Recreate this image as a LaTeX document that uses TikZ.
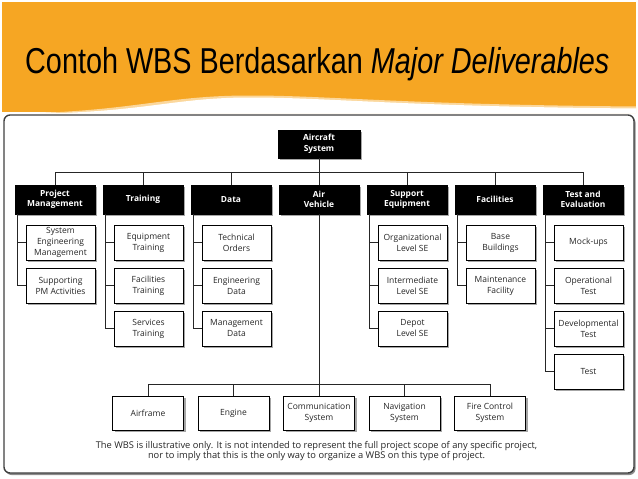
\documentclass[tikz,border=0pt]{standalone}
\usepackage{fontspec}
\setmainfont{Liberation Sans}
\newfontfamily\titlefont[FakeStretch=0.8]{Liberation Sans}
\newfontfamily\boxfont{Open Sans}
\usetikzlibrary{shadows}
\definecolor{hdrorange}{RGB}{246,166,35}
\tikzset{
  hdr/.style={fill=black, draw=black, text=white,
    font=\boxfont\bfseries\fontsize{8.4}{10.5}\selectfont,
    minimum width=80pt, minimum height=29pt, inner sep=1pt, align=center,
    drop shadow={shadow xshift=2pt, shadow yshift=-2pt, fill=black!35, opacity=1}},
  item/.style={fill=white, draw=black, line width=0.8pt, text=black!85,
    font=\boxfont\fontsize{8.5}{11}\selectfont,
    minimum width=69pt, minimum height=35pt, inner sep=1pt, align=center,
    drop shadow={shadow xshift=2pt, shadow yshift=-2pt, fill=black!35, opacity=1}},
  bitem/.style={item, minimum width=71pt, minimum height=34pt},
  link/.style={draw=black!85, line width=0.8pt},
}
\begin{document}
\begin{tikzpicture}[x=1pt,y=-1pt]
\useasboundingbox (0,0) rectangle (638,479);
% header band
\fill[hdrorange] (2,2) rectangle (636,112);
\fill[hdrorange!45] (40,113) .. controls (140,109) and (170,95.5) .. (250,95.5)
   .. controls (330,95.5) and (400,104.5) .. (636,106.5) -- (636,113) -- cycle;
\fill[white] (60,113) .. controls (150,110) and (180,97.5) .. (250,97.5)
   .. controls (330,97.5) and (400,106.5) .. (636,108.5) -- (636,113) -- cycle;
\node[anchor=base west, inner sep=0, font=\titlefont\fontsize{36}{40}\selectfont] (title) at (25,73)
  {Contoh WBS Berdasarkan \textit{Major Deliverables}};
% frame
\fill[black!45, rounded corners=6pt] (5.5,116.5) rectangle (635.5,475);
\draw[line width=1.4pt, black!75, fill=white, rounded corners=6pt] (4,115) rectangle (634,473);

% root
\node[hdr, minimum width=82pt, minimum height=28pt] (root) at (319,144) {Aircraft\\System};
% level 1
\node[hdr] (pm) at (55,199.5) {Project\\Management};
\node[hdr] (tr) at (143,199.5) {Training};
\node[hdr] (da) at (231,199.5) {Data};
\node[hdr] (av) at (319,199.5) {Air\\Vehicle};
\node[hdr] (se) at (407,199.5) {Support\\Equipment};
\node[hdr] (fa) at (495,199.5) {Facilities};
\node[hdr] (te) at (583,199.5) {Test and\\Evaluation};

% children
\node[item] (pm1) at (60.5,242.5) {System\\Engineering\\Management};
\node[item] (pm2) at (60.5,285.5) {Supporting\\PM Activities};
\node[item] (tr1) at (148.5,242.5) {Equipment\\Training};
\node[item] (tr2) at (148.5,285.5) {Facilities\\Training};
\node[item] (tr3) at (148.5,328.5) {Services\\Training};
\node[item] (da1) at (236.5,242.5) {Technical\\Orders};
\node[item] (da2) at (236.5,285.5) {Engineering\\Data};
\node[item] (da3) at (236.5,328.5) {Management\\Data};
\node[item] (se1) at (412.5,242.5) {Organizational\\Level SE};
\node[item] (se2) at (412.5,285.5) {Intermediate\\Level SE};
\node[item] (se3) at (412.5,328.5) {Depot\\Level SE};
\node[item] (fa1) at (500.5,242.5) {Base\\Buildings};
\node[item] (fa2) at (500.5,285.5) {Maintenance\\Facility};
\node[item] (te1) at (588.5,242.5) {Mock-ups};
\node[item] (te2) at (588.5,285.5) {Operational\\Test};
\node[item] (te3) at (588.5,328.5) {Developmental\\Test};
\node[item] (te4) at (588.5,371.5) {Test};

% bottom row
\node[bitem] (af) at (148,413) {Airframe};
\node[bitem] (en) at (233.5,413) {Engine};
\node[bitem] (cs) at (319,413) {Communication\\System};
\node[bitem] (ns) at (404.5,413) {Navigation\\System};
\node[bitem] (fc) at (490,413) {Fire Control\\System};

% footnote
\node[font=\boxfont\fontsize{9.3}{10.5}\selectfont, align=center, text=black!85, inner sep=0] (note) at (316.5,451)
  {The WBS is illustrative only. It is not intended to represent the full project scope of any specific project,\\
   nor to imply that this is the only way to organize a WBS on this type of project.};

% connectors
\coordinate (bus) at (0,172);
\coordinate (bbus) at (0,384);
\draw[link] (pm.north |- bus) -- (te.north |- bus);
\draw[link] (root.south) -- (av.north);
\foreach \n in {pm,tr,da,se,fa,te} \draw[link] (\n.north) -- (\n.north |- bus);
\draw[link] (av.south) -- (av.south |- bbus);
\draw[link] (af.north |- bbus) -- (fc.north |- bbus);
\foreach \n in {af,en,cs,ns,fc} \draw[link] (\n.north) -- (\n.north |- bbus);
\foreach \p/\c in {pm/pm1,pm/pm2,tr/tr1,tr/tr2,tr/tr3,da/da1,da/da2,da/da3,se/se1,se/se2,se/se3,fa/fa1,fa/fa2,te/te1,te/te2,te/te3,te/te4}
  \draw[link] ([xshift=3pt]\p.south west) |- (\c.west);
\end{tikzpicture}
\end{document}
